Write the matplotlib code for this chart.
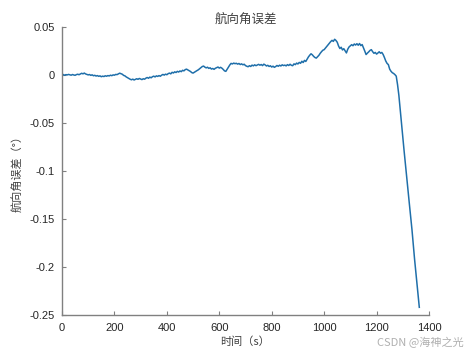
import numpy as np
import matplotlib
matplotlib.use("Agg")
import matplotlib.pyplot as plt

plt.rcParams['font.family'] = ['Liberation Sans', 'Noto Sans CJK SC', 'DejaVu Sans']

# time samples (s)
time_s = list(range(0, 1365, 5)) + [1363]

# heading angle error, in units of 1e-3 degree
heading_err_milli = [
    0.0, 0.5, -0.3, 0.4, 0.1, 0.6, 0.2, -0.2, 0.5, 0.0,
    -0.3, 0.4, 0.8, 0.3, 1.0, 1.8, 1.2, 2.0, 1.1, 0.6,
    0.1, 0.5, -0.4, 0.2, -0.8, -0.3, -1.1, -0.6, -1.4, -0.9,
    -1.8, -1.2, -1.6, -0.8, -1.3, -0.6, -1.0, -0.2, -0.7, 0.1,
    -0.2, 0.6, 0.4, 1.2, 1.9, 1.3, 0.8, -0.4, -0.9, -2.0,
    -2.8, -3.6, -4.4, -5.0, -4.3, -5.2, -4.6, -3.9, -4.5, -3.6,
    -4.2, -4.8, -3.9, -4.4, -3.3, -2.6, -3.4, -2.2, -2.9, -1.8,
    -1.2, -2.0, -0.9, -1.5, -0.6, -1.3, -0.2, 0.6, -0.1, 0.9,
    0.3, 1.4, 2.0, 1.2, 2.8, 2.1, 3.3, 2.6, 3.8, 3.1,
    4.2, 3.5, 4.9, 4.3, 5.6, 6.1, 5.3, 4.6, 3.7, 2.5,
    2.0, 2.9, 3.8, 4.6, 5.4, 6.5, 7.6, 8.8, 9.3, 8.2,
    7.4, 8.1, 6.9, 7.5, 6.2, 6.8, 5.9, 7.0, 7.6, 8.3,
    7.2, 8.0, 7.1, 5.8, 4.3, 3.8, 5.9, 8.2, 10.4, 12.1,
    11.5, 12.4, 11.8, 12.2, 11.3, 12.0, 10.9, 11.6, 10.6, 11.2,
    9.8, 9.1, 8.6, 9.7, 8.9, 10.3, 9.5, 10.6, 9.7, 10.4,
    11.1, 10.2, 10.9, 9.8, 11.3, 10.5, 9.4, 10.1, 8.9, 9.6,
    8.3, 9.2, 8.0, 8.8, 9.9, 9.1, 10.2, 9.4, 10.6, 9.8,
    10.3, 9.5, 10.8, 9.9, 11.2, 10.1, 9.7, 11.6, 10.8, 12.4,
    11.5, 13.1, 12.2, 14.3, 13.0, 15.2, 14.1, 16.4, 18.8, 20.6,
    22.1, 21.0, 19.4, 18.2, 17.6, 19.1, 20.5, 22.6, 24.3, 25.8,
    26.4, 28.1, 29.9, 31.6, 33.2, 34.8, 36.1, 35.0, 37.2, 36.0,
    34.1, 30.2, 27.6, 28.9, 26.1, 27.4, 25.2, 23.0, 26.8, 29.2,
    30.4, 31.6, 30.5, 32.3, 31.2, 32.6, 31.0, 32.8, 30.6, 31.7,
    28.4, 24.9, 21.3, 22.8, 24.1, 25.6, 26.4, 24.3, 22.6, 23.5,
    21.8, 22.9, 24.2, 22.7, 23.5, 21.4, 18.2, 14.6, 12.1, 10.8,
    6.1, 3.9, 2.4, 1.6, 0.4, -1.2,
    -10.0, -21.0, -35.0, -50.0, -65.0, -79.0, -93.0, -107.0, -121.0,
    -134.0, -147.0, -161.0, -177.0, -192.0, -206.0, -220.0, -233.0,
    -242.0,
]
heading_err = np.array(heading_err_milli) / 1000.0

title_text = "航向角误差"
xlabel_text = "时间（s）"
ylabel_text = "航向角误差（°）"
xticks = [0, 200, 400, 600, 800, 1000, 1200, 1400]
yticks = [-0.25, -0.2, -0.15, -0.1, -0.05, 0, 0.05]
ytick_labels = ["-0.25", "-0.2", "-0.15", "-0.1", "-0.05", "0", "0.05"]

fig = plt.figure(figsize=(4.74, 3.55), dpi=100)
ax = fig.add_axes([62/474, 40/355, (429-62)/474, (315-27)/355])

ax.plot(time_s, heading_err, color='#1f6faa', linewidth=1.1)

ax.set_xlim(0, 1400)
ax.set_ylim(-0.25, 0.05)
ax.set_xticks(xticks)
ax.set_yticks(yticks)
ax.set_yticklabels(ytick_labels)

for s in ['top', 'right']:
    ax.spines[s].set_visible(False)
for s in ['left', 'bottom']:
    ax.spines[s].set_color('#808080')
    ax.spines[s].set_linewidth(1.0)
ax.tick_params(direction='in', length=3, width=0.8, color='#808080',
               labelsize=8, labelcolor='#262626')
ax.tick_params(axis='y', pad=5)
ax.tick_params(axis='x', pad=6)

cjk = ['Noto Sans CJK SC', 'DejaVu Sans']
ax.set_title(title_text, family=cjk, fontsize=9, color='#404040', pad=3)
ax.set_xlabel(xlabel_text, family=cjk, fontsize=8, color='#404040', labelpad=2)
ax.set_ylabel(ylabel_text, family=cjk, fontsize=8, color='#404040', labelpad=5)

fig.text(0.978, 0.035, "CSDN @海神之光", family=cjk, fontsize=8,
         color='#b0b0b0', ha='right', va='center')

fig.savefig("out.png", dpi=100)
